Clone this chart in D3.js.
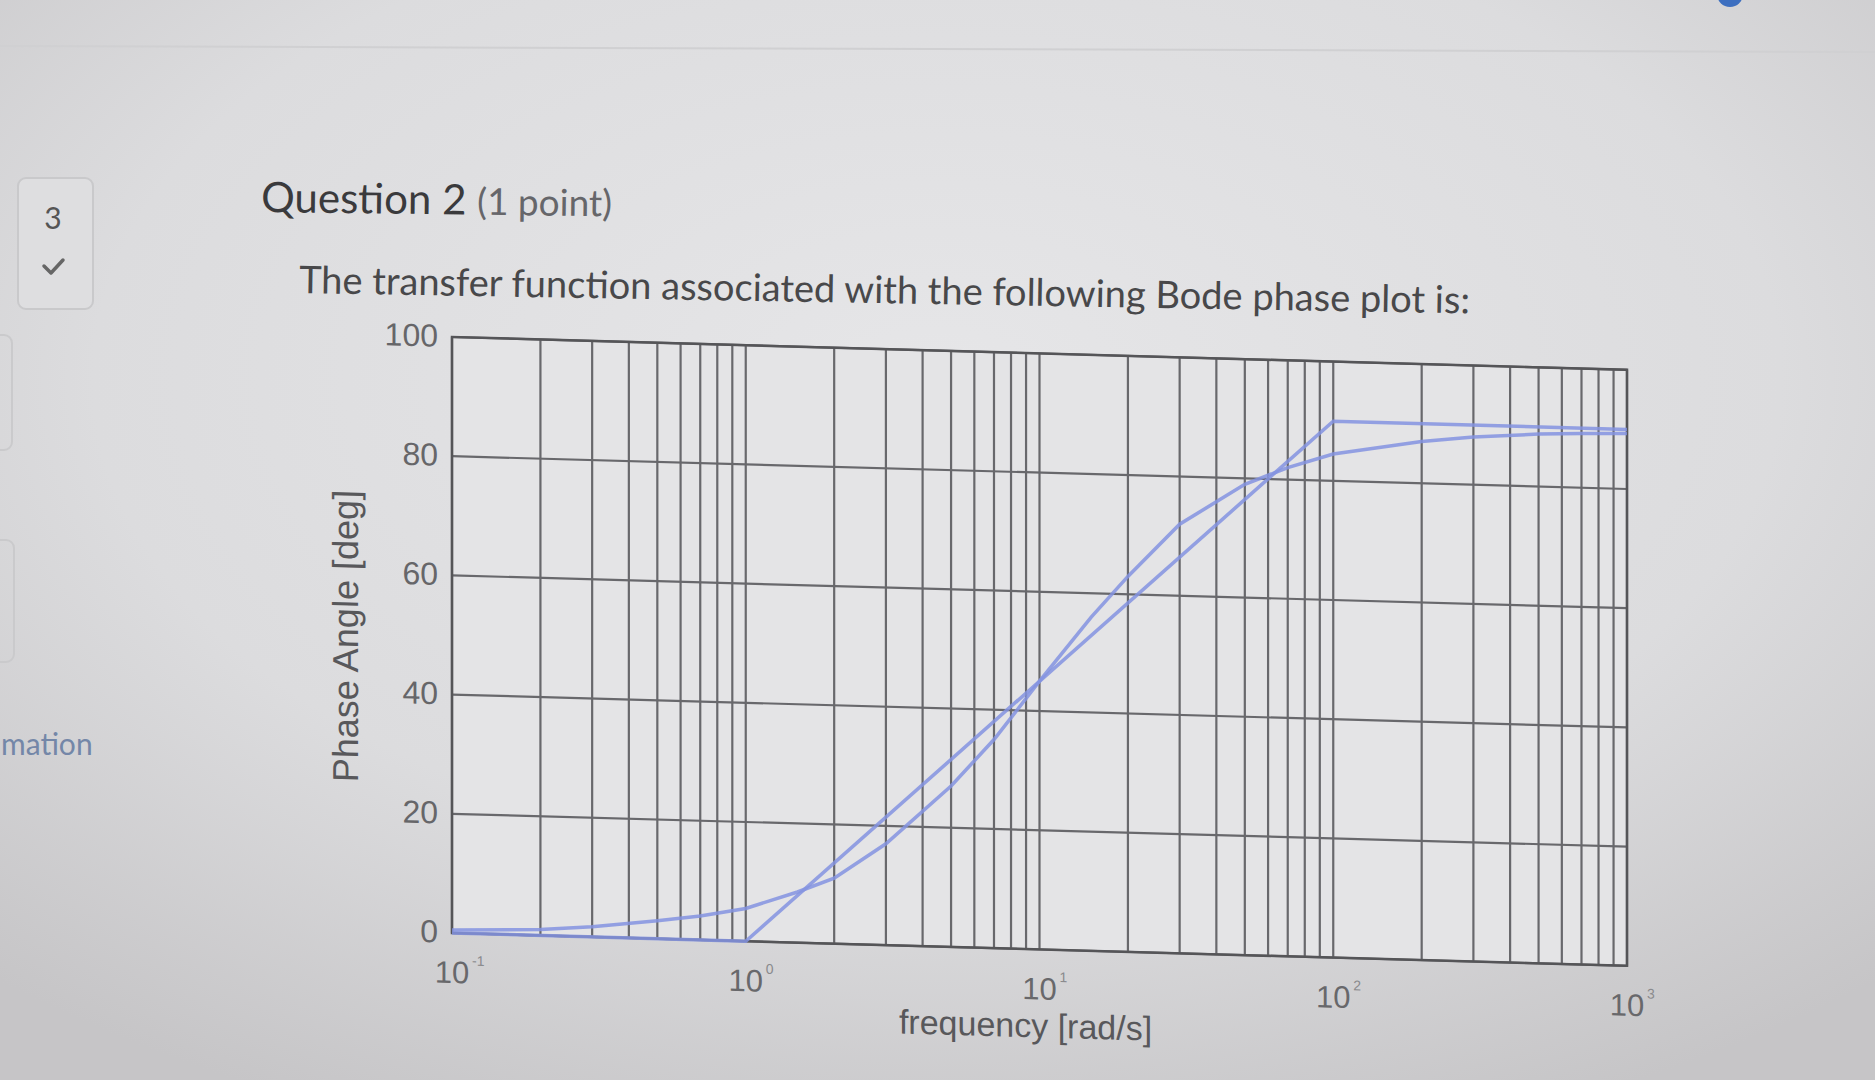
<!DOCTYPE html>
<html>
<head>
<meta charset="utf-8">
<style>
  body { margin: 0; background: #dadadc; overflow: hidden; }
  svg { display: block; }
</style>
</head>
<body>
<div id="page"></div>
<script src="https://cdn.jsdelivr.net/npm/d3@7/dist/d3.min.js"></script>
<script>
var freq  = [0.1, 0.2, 0.3, 0.5, 0.7, 1, 1.5, 2, 3, 5, 7, 10, 15, 20, 30, 50, 70, 100, 200, 300, 500, 700, 1000];
var phase = [0.5, 1, 1.7, 3, 4, 5.5, 8.5, 11, 17, 27, 35, 45, 56, 63, 72, 79, 82, 84.5, 87, 88, 88.8, 89.1, 89.3];
// straight-line approximation
var asymFreq  = [0.1, 1, 100, 1000];
var asymPhase = [0, 0, 90, 90];

var yTicks = [0, 20, 40, 60, 80, 100];
var xDecades = [-1, 0, 1, 2, 3];

var question = "Question 2";
var points = "(1 point)";
var prompt = "The transfer function associated with the following Bode phase plot is:";

var svg = d3.select("#page").append("svg")
    .attr("width", 1875)
    .attr("height", 1080);

// photo-ish background
var defs = svg.append("defs");
var bg = defs.append("radialGradient")
    .attr("id", "bg")
    .attr("cx", "50%").attr("cy", "35%").attr("r", "75%");
bg.append("stop").attr("offset", "0%").attr("stop-color", "#e6e6e8");
bg.append("stop").attr("offset", "60%").attr("stop-color", "#dcdcde");
bg.append("stop").attr("offset", "100%").attr("stop-color", "#c6c5c7");
svg.append("rect").attr("width", 1875).attr("height", 1080).attr("fill", "url(#bg)");

// top divider + blue dot
svg.append("line").attr("x1", 0).attr("x2", 1875).attr("y1", 46).attr("y2", 52)
    .attr("stroke", "#d0d0d2").attr("stroke-width", 2);
svg.append("circle").attr("cx", 1730).attr("cy", -6).attr("r", 13).attr("fill", "#3d6fc0");

// left sidebar bits
svg.append("rect").attr("x", 18).attr("y", 178).attr("width", 75).attr("height", 131).attr("rx", 8)
    .attr("fill", "#dedee0").attr("stroke", "#c9c9cb").attr("stroke-width", 2);
svg.append("text").attr("x", 53).attr("y", 229).attr("text-anchor", "middle")
    .attr("font-family", "Lato").attr("font-size", 30).attr("fill", "#555").text("3");
svg.append("path").attr("d", "M44,266 L51,273 L63,260")
    .attr("fill", "none").attr("stroke", "#666").attr("stroke-width", 3.5)
    .attr("stroke-linecap", "round").attr("stroke-linejoin", "round");
svg.append("rect").attr("x", -20).attr("y", 335).attr("width", 32).attr("height", 115).attr("rx", 8)
    .attr("fill", "none").attr("stroke", "#cacacc").attr("stroke-width", 2);
svg.append("rect").attr("x", -20).attr("y", 540).attr("width", 34).attr("height", 122).attr("rx", 8)
    .attr("fill", "none").attr("stroke", "#cacacc").attr("stroke-width", 2);
svg.append("text").attr("x", 1).attr("y", 755)
    .attr("font-family", "Lato").attr("font-size", 30).attr("fill", "#7487a8").text("mation");

// heading
var h = svg.append("text").attr("transform", "translate(261,212) rotate(0.7)")
    .attr("font-family", "Lato").attr("font-size", 42);
h.append("tspan").attr("fill", "#3a3a3c").text(question + " ");
h.append("tspan").attr("fill", "#66666a").attr("font-size", 37).text(points);

svg.append("text").attr("transform", "translate(299,293) rotate(1)")
    .attr("font-family", "Lato").attr("font-size", 38).attr("fill", "#48484a")
    .text(prompt);

// the plot
var W = 1175, H = 596;
var g = svg.append("g").attr("transform", "translate(452,337) skewY(1.6)");

var x = d3.scaleLog().domain([0.1, 1000]).range([0, W]);
var y = d3.scaleLinear().domain([0, 100]).range([H, 0]);

g.append("rect").attr("width", W).attr("height", H).attr("fill", "#e4e4e6");

g.selectAll(".vgrid").data(x.ticks()).enter().append("line")
    .attr("class", "vgrid")
    .attr("x1", function(d) { return x(d); }).attr("x2", function(d) { return x(d); })
    .attr("y1", 0).attr("y2", H)
    .attr("stroke", "#68686c").attr("stroke-width", 2.2);

g.selectAll(".hgrid").data(yTicks).enter().append("line")
    .attr("class", "hgrid")
    .attr("x1", 0).attr("x2", W)
    .attr("y1", function(d) { return y(d); }).attr("y2", function(d) { return y(d); })
    .attr("stroke", "#68686c").attr("stroke-width", 2.2);

g.append("rect").attr("width", W).attr("height", H)
    .attr("fill", "none").attr("stroke", "#555558").attr("stroke-width", 2.5);

var line = d3.line()
    .x(function(d) { return x(d[0]); })
    .y(function(d) { return y(d[1]); });

g.append("path")
    .datum(d3.zip(asymFreq, asymPhase))
    .attr("fill", "none").attr("stroke", "#8493e0").attr("stroke-width", 3.5).attr("opacity", 0.85)
    .attr("d", line);

g.append("path")
    .datum(d3.zip(freq, phase))
    .attr("fill", "none").attr("stroke", "#8493e0").attr("stroke-width", 3.5).attr("opacity", 0.85)
    .attr("d", line);

// y tick labels
g.selectAll(".ylab").data(yTicks).enter().append("text")
    .attr("class", "ylab")
    .attr("x", -14).attr("y", function(d) { return y(d) + 10; })
    .attr("text-anchor", "end")
    .attr("font-family", "Liberation Sans").attr("font-size", 32).attr("fill", "#666669")
    .text(function(d) { return d; });

// x tick labels, 10 with exponent
var xl = g.selectAll(".xlab").data(xDecades).enter().append("g")
    .attr("class", "xlab")
    .attr("transform", function(d) { return "translate(" + x(Math.pow(10, d)) + "," + (H + 50) + ")"; });
xl.append("text").attr("text-anchor", "middle")
    .attr("font-family", "Liberation Sans").attr("font-size", 31).attr("fill", "#68686b")
    .text("10");
xl.append("text").attr("x", 20).attr("y", -18)
    .attr("font-family", "Liberation Sans").attr("font-size", 14).attr("fill", "#8a8a8d")
    .text(function(d) { return d; });

// axis titles
g.append("text")
    .attr("x", x(10) - 14).attr("y", H + 88)
    .attr("text-anchor", "middle")
    .attr("font-family", "Liberation Sans").attr("font-size", 34).attr("fill", "#58585b")
    .text("frequency [rad/s]");

g.append("text")
    .attr("transform", "translate(-94," + (H / 2 + 4) + ") rotate(-90)")
    .attr("text-anchor", "middle")
    .attr("font-family", "Liberation Sans").attr("font-size", 36).attr("fill", "#58585b")
    .text("Phase Angle [deg]");
</script>
</body>
</html>
